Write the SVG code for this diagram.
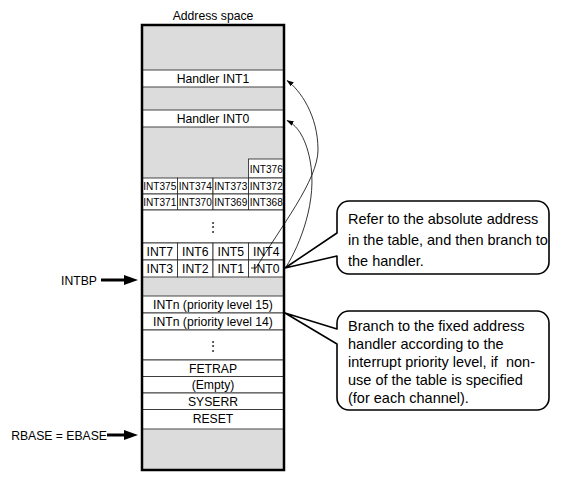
<svg xmlns="http://www.w3.org/2000/svg" width="563" height="479" viewBox="0 0 563 479">
<style>
text{font-family:"Liberation Sans",Arial,sans-serif;font-size:12.2px;fill:#000}
.c{text-anchor:middle}
.sq{text-anchor:middle;font-size:11.4px}
.grey{fill:#dcdcdc}
.row{fill:#fff;stroke:#333;stroke-width:0.9}
.cl{font-size:14.5px}
.callout{fill:#fff;stroke:#000;stroke-width:1.6;stroke-linejoin:round}
.thin{fill:none;stroke:#000;stroke-width:0.8}
.big{stroke:#000;stroke-width:3;fill:none}
</style>
<defs>
<marker id="sm" markerWidth="7" markerHeight="6" refX="6.5" refY="3" orient="auto" markerUnits="userSpaceOnUse"><path d="M0,0.5 L7,3 L0,5.5 z" fill="#000"/></marker>
</defs>
<rect width="563" height="479" fill="#fff"/>
<text class="c" x="213" y="19.5">Address space</text>

<g id="memory">
<rect class="grey" x="142" y="25" width="142" height="445"/>
</g>
<g id="handler-int1"><rect class="row" x="142" y="70" width="142" height="17"/><text class="c" x="213" y="82.8">Handler INT1</text></g>
<g id="handler-int0"><rect class="row" x="142" y="110" width="142" height="17"/><text class="c" x="213" y="122.8">Handler INT0</text></g>
<g id="int376"><rect class="row" x="248.5" y="159" width="35.5" height="19"/><text class="sq" x="266.25" y="172.6" textLength="33" lengthAdjust="spacingAndGlyphs">INT376</text></g>
<g id="row-int375">
<rect class="row" x="142" y="178" width="35.5" height="16"/><rect class="row" x="177.5" y="178" width="35.5" height="16"/><rect class="row" x="213" y="178" width="35.5" height="16"/><rect class="row" x="248.5" y="178" width="35.5" height="16"/>
<text class="sq" x="159.75" y="190.1" textLength="33" lengthAdjust="spacingAndGlyphs">INT375</text>
<text class="sq" x="195.25" y="190.1" textLength="33" lengthAdjust="spacingAndGlyphs">INT374</text>
<text class="sq" x="230.75" y="190.1" textLength="33" lengthAdjust="spacingAndGlyphs">INT373</text>
<text class="sq" x="266.25" y="190.1" textLength="33" lengthAdjust="spacingAndGlyphs">INT372</text>
</g>
<g id="row-int371">
<rect class="row" x="142" y="194" width="35.5" height="16"/><rect class="row" x="177.5" y="194" width="35.5" height="16"/><rect class="row" x="213" y="194" width="35.5" height="16"/><rect class="row" x="248.5" y="194" width="35.5" height="16"/>
<text class="sq" x="159.75" y="206.1" textLength="33" lengthAdjust="spacingAndGlyphs">INT371</text>
<text class="sq" x="195.25" y="206.1" textLength="33" lengthAdjust="spacingAndGlyphs">INT370</text>
<text class="sq" x="230.75" y="206.1" textLength="33" lengthAdjust="spacingAndGlyphs">INT369</text>
<text class="sq" x="266.25" y="206.1" textLength="33" lengthAdjust="spacingAndGlyphs">INT368</text>
</g>
<g id="dots-1"><rect class="row" x="142" y="210" width="142" height="33"/><text class="c" x="213" y="231">⋮</text></g>
<g id="row-int7">
<rect class="row" x="142" y="243" width="35.5" height="17"/><rect class="row" x="177.5" y="243" width="35.5" height="17"/><rect class="row" x="213" y="243" width="35.5" height="17"/><rect class="row" x="248.5" y="243" width="35.5" height="17"/>
<text class="c" x="159.75" y="255.8">INT7</text><text class="c" x="195.25" y="255.8">INT6</text><text class="c" x="230.75" y="255.8">INT5</text><text class="c" x="266.25" y="255.8">INT4</text>
</g>
<g id="row-int3">
<rect class="row" x="142" y="260" width="35.5" height="17"/><rect class="row" x="177.5" y="260" width="35.5" height="17"/><rect class="row" x="213" y="260" width="35.5" height="17"/><rect class="row" x="248.5" y="260" width="35.5" height="17"/>
<text class="c" x="159.75" y="272.8">INT3</text><text class="c" x="195.25" y="272.8">INT2</text><text class="c" x="230.75" y="272.8">INT1</text><text class="c" x="266.25" y="272.8">INT0</text>
</g>
<g id="intn15"><rect class="row" x="142" y="296" width="142" height="17"/><text class="c" x="213" y="308.8">INTn (priority level 15)</text></g>
<g id="intn14"><rect class="row" x="142" y="313" width="142" height="17"/><text class="c" x="213" y="325.8">INTn (priority level 14)</text></g>
<g id="dots-2"><rect class="row" x="142" y="330" width="142" height="30"/><text class="c" x="213" y="349.5">⋮</text></g>
<g id="fetrap"><rect class="row" x="142" y="360" width="142" height="16.5"/><text class="c" x="213" y="372.5">FETRAP</text></g>
<g id="empty"><rect class="row" x="142" y="376.5" width="142" height="16.5"/><text class="c" x="213" y="389">(Empty)</text></g>
<g id="syserr"><rect class="row" x="142" y="393" width="142" height="16.5"/><text class="c" x="213" y="405.5">SYSERR</text></g>
<g id="reset"><rect class="row" x="142" y="409.5" width="142" height="19.5"/><text class="c" x="213" y="423.3">RESET</text></g>
<rect x="142" y="25" width="142" height="445" fill="none" stroke="#000" stroke-width="2.5"/>

<g id="intbp"><text x="97" y="284.6" text-anchor="end">INTBP</text></g>
<g id="rbase"><text x="107" y="439.6" text-anchor="end">RBASE = EBASE</text></g>

<g id="callout-1">
<path class="callout" d="M349 201 H537 A12 12 0 0 1 549 213 V262 A12 12 0 0 1 537 274 H349 A12 12 0 0 1 337 262 V256 L285 268 L337 233 V213 A12 12 0 0 1 349 201 Z"/>
<text class="cl" x="348" y="224.2">Refer to the absolute address</text>
<text class="cl" x="348" y="245.2">in the table, and then branch to</text>
<text class="cl" x="348" y="266.2">the handler.</text>
</g>
<g id="callout-2">
<path class="callout" d="M349 311 H537 A12 12 0 0 1 549 323 V398 A12 12 0 0 1 537 410 H349 A12 12 0 0 1 337 398 V344 L285 313 L337 329 V323 A12 12 0 0 1 349 311 Z"/>
<text class="cl" x="348" y="331.2">Branch to the fixed address</text>
<text class="cl" x="348" y="349.2">handler according to the</text>
<text class="cl" x="348" y="367.2">interrupt priority level, if&#160; non-</text>
<text class="cl" x="348" y="385.2">use of the table is specified</text>
<text class="cl" x="348" y="403.2">(for each channel).</text>
</g>

<g id="connectors">
<path class="thin" d="M251 268 L256 268 C280 228 318 180 318 150 C318 115 300 90 287 80.5" marker-end="url(#sm)"/>
<path class="thin" d="M286 267 C300 245 318 200 310 160 C305 135 296 125 287 120.5" marker-end="url(#sm)"/>
<line class="big" x1="101" y1="280" x2="127" y2="280"/>
<path d="M124 275 L138 280 L124 285 Z" fill="#000"/>
<line class="big" x1="107" y1="435" x2="127" y2="435"/>
<path d="M124 430 L138 435 L124 440 Z" fill="#000"/>
</g>
</svg>
